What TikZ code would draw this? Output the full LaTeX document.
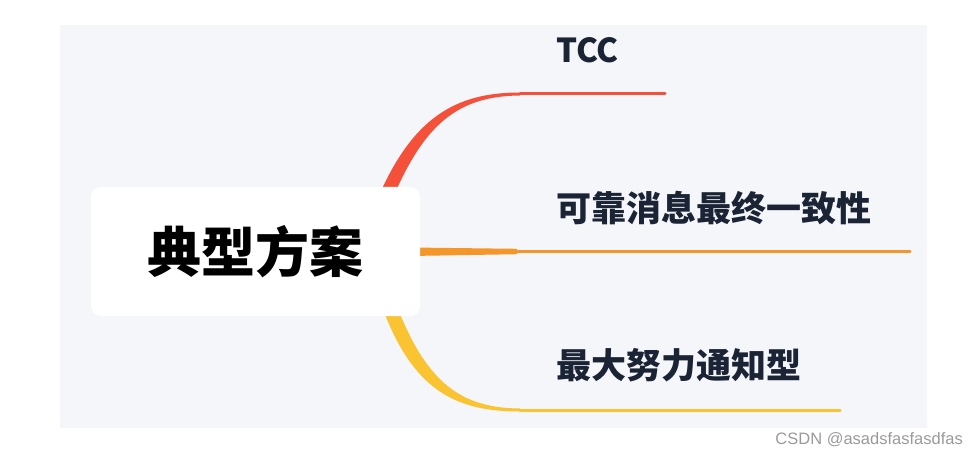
\documentclass[tikz,border=0pt]{standalone}
\usepackage{fontspec}
\setmainfont{Liberation Sans}
\newfontfamily\cjk{Noto Sans CJK SC}
\usetikzlibrary{positioning}
\definecolor{panelgray}{HTML}{F5F6F9}
\definecolor{ink}{HTML}{1B2435}
\definecolor{brred}{HTML}{F5513A}
\definecolor{brorange}{HTML}{F5962A}
\definecolor{bryellow}{HTML}{FAC332}
\definecolor{markgray}{HTML}{9A9A9A}
\tikzset{
    root/.style={fill=white, rounded corners=10pt, minimum width=329pt,
        minimum height=129pt, inner sep=0pt,
        font=\cjk\bfseries\fontsize{54}{60}\selectfont, text=black},
    leaf/.style={anchor=west, inner sep=0pt, text=ink,
        font=\cjk\bfseries\fontsize{35}{40}\selectfont},
    twig/.style={line width=3pt, line cap=round}
}

\begin{document}
\begin{tikzpicture}[x=1pt, y=-1pt]

        \useasboundingbox (0,0) rectangle (979,457);
        \fill[panelgray] (60,25) rectangle (927,428);

        \coordinate (Tb) at (520,94);
        \coordinate (Te) at (665,94);
        \coordinate (Mb) at (517,251.5);
        \coordinate (Me) at (910,251.5);
        \coordinate (Bb) at (520,410);
        \coordinate (Be) at (840,410);

        \fill[brred] (377,200) .. controls (412,118) and (455,92.5) .. (520,92.5)
            -- (520,95.5) .. controls (458,96) and (424,124) .. (392,200) -- cycle;
        \draw[twig, brred] (Tb) -- (Te);

        \fill[brorange] (410,247.5) -- (517,248.8) -- (517,254.2) -- (410,256) -- cycle;
        \draw[twig, brorange] (Mb) -- (Me);

        \fill[bryellow] (381,304) .. controls (412,390) and (455,411.5) .. (520,411.5)
            -- (520,408.5) .. controls (460,408) and (426,382) .. (396,304) -- cycle;
        \draw[twig, bryellow] (Bb) -- (Be);

        \node[root] (R) at (255.5,251.5) {典型方案};

        \node[leaf, font=\cjk\bfseries\fontsize{33}{38}\selectfont] (TCC) at (556,50) {TCC};
        \node[leaf] (MQ) at (556,208) {可靠消息最终一致性};
        \node[leaf] (BE) at (556,365) {最大努力通知型};

        \node[anchor=east, inner sep=0pt, text=markgray,
            font=\fontsize{16.5}{20}\selectfont] (WM) at (963,440) {CSDN @asadsfasfasdfas};

    \end{tikzpicture}
\end{document}
